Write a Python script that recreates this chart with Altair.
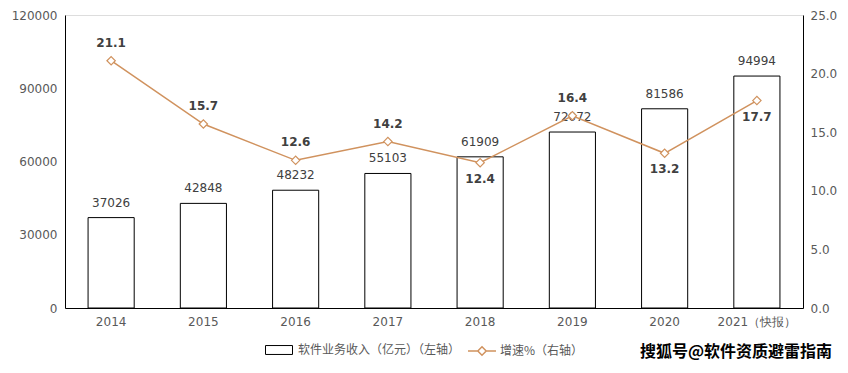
import altair as alt
import pandas as pd

years = ["2014", "2015", "2016", "2017", "2018", "2019", "2020", "2021（快报）"]
revenue = [37026, 42848, 48232, 55103, 61909, 72072, 81586, 94994]
growth = [21.1, 15.7, 12.6, 14.2, 12.4, 16.4, 13.2, 17.7]
below_years = ["2018", "2020", "2021（快报）"]
bar_series = "软件业务收入（亿元）（左轴）"
line_series = "增速%（右轴）"
left_ticks = [0, 30000, 60000, 90000, 120000]
right_ticks = [0, 5, 10, 15, 20, 25]
watermark = "搜狐号@软件资质避雷指南"

LINE = "#D0925E"
GRAY = "#595959"
DARK = "#404040"

df = pd.DataFrame({
    "year": years,
    "revenue": revenue,
    "growth": growth,
    "bar_series": [bar_series] * len(years),
    "line_series": [line_series] * len(years),
    "below": [y in below_years for y in years],
})

x = alt.X("year:N", sort=years, title=None,
          scale=alt.Scale(paddingInner=0.5, paddingOuter=0.25),
          axis=alt.Axis(labelAngle=0, ticks=False, domainColor="black",
                        labelColor=GRAY, labelFontSize=12, labelPadding=8,
                        labelFont="DejaVu Sans"))

y_left = alt.Y("revenue:Q", title=None,
               scale=alt.Scale(domain=[0, 120000], nice=False),
               axis=alt.Axis(values=left_ticks, grid=False, ticks=False,
                             domainColor="black", labelColor=GRAY,
                             labelFontSize=12, labelPadding=8, format="d",
                             labelFont="DejaVu Sans"))

y_right = alt.Y("growth:Q", title=None,
                scale=alt.Scale(domain=[0, 25], nice=False),
                axis=alt.Axis(orient="right", values=right_ticks, grid=False,
                              ticks=False, domainColor="black", labelColor=GRAY,
                              labelFontSize=12, labelPadding=7, format=".1f",
                              labelFont="DejaVu Sans"))

base = alt.Chart(df)

bars = base.mark_bar(stroke="black", strokeWidth=1).encode(
    x=x, y=y_left,
    fill=alt.Fill("bar_series:N",
                  scale=alt.Scale(domain=[bar_series], range=["white"]),
                  legend=alt.Legend(orient="none", legendX=200, legendY=321,
                                    title=None, padding=0, labelLimit=400,
                                    symbolType="M-1,-0.33H1V0.33H-1Z",
                                    symbolSize=729, symbolStrokeColor="black",
                                    symbolStrokeWidth=1, labelOffset=5,
                                    labelFont="Noto Sans CJK SC",
                                    labelFontSize=12, labelColor=GRAY)),
)

bar_text = base.mark_text(baseline="bottom", dy=-8, fontSize=12,
                          color=DARK, font="DejaVu Sans").encode(
    x=x, y=y_left, text=alt.Text("revenue:Q", format="d"))

line = base.mark_line(strokeWidth=1.5).encode(
    x=x, y=y_right,
    stroke=alt.Stroke("line_series:N",
                      scale=alt.Scale(domain=[line_series], range=[LINE]),
                      legend=alt.Legend(orient="none", legendX=402, legendY=321,
                                        title=None, padding=0, labelLimit=400,
                                        symbolType="M-1,0H-0.3M0.3,0H1M0,-0.3L0.3,0L0,0.3L-0.3,0Z",
                                        symbolSize=784, symbolFillColor="white",
                                        symbolStrokeWidth=1.5, labelOffset=3,
                                        labelFont="Noto Sans CJK SC",
                                        labelFontSize=12, labelColor=GRAY)),
)

points = base.mark_point(shape="diamond", filled=True, fill="white",
                         stroke=LINE, strokeWidth=1.2, size=70, opacity=1).encode(
    x=x, y=y_right)

labels_above = base.transform_filter("!datum.below").mark_text(
    baseline="bottom", dy=-11, fontSize=12, fontWeight="bold", color=DARK,
    font="DejaVu Sans").encode(x=x, y=y_right, text=alt.Text("growth:Q", format=".1f"))

labels_below = base.transform_filter("datum.below").mark_text(
    baseline="top", dy=11, fontSize=12, fontWeight="bold", color=DARK,
    font="DejaVu Sans").encode(x=x, y=y_right, text=alt.Text("growth:Q", format=".1f"))

wm = alt.Chart(pd.DataFrame({"t": [watermark]})).mark_text(
    fontSize=16, fontWeight="bold", font="Noto Sans CJK SC", color="black",
    align="center", baseline="middle").encode(
    x=alt.value(671), y=alt.value(337), text="t:N")

left_layer = alt.layer(bars, bar_text)
right_layer = alt.layer(line, points, labels_above, labels_below)

chart = alt.layer(left_layer, right_layer, wm).resolve_scale(
    y="independent", fill="independent", stroke="independent"
).properties(
    width=738, height=293,
    padding={"left": 3, "top": 1, "right": 2, "bottom": 4},
).configure_view(stroke=None).configure(background="white")

chart.save("out.html", embed_options={"renderer": "svg", "actions": False})
